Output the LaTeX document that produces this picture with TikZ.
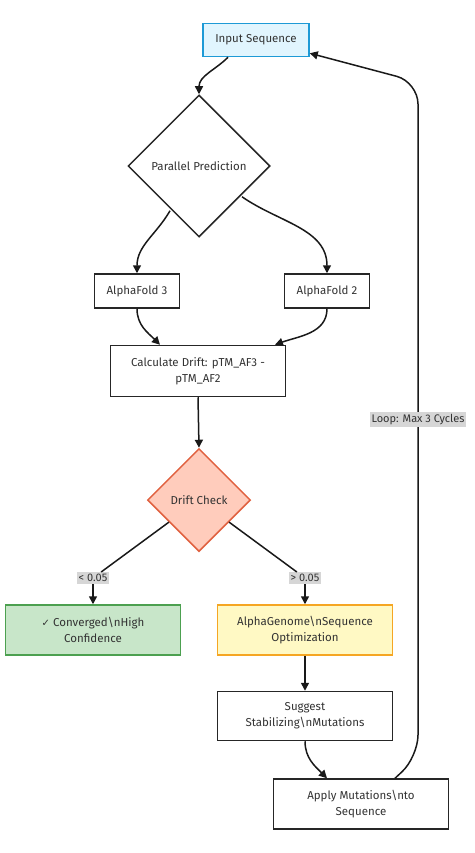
\documentclass[tikz,border=0pt]{standalone}
\usepackage{fontspec}
\setmainfont{Fira Sans}
\newfontfamily\symfont{DejaVu Sans}
\usetikzlibrary{arrows.meta,shapes.geometric}
\definecolor{txtgray}{HTML}{333333}
\definecolor{inblue}{HTML}{E1F5FE}
\definecolor{inbluedraw}{HTML}{1E9AD6}
\definecolor{driftfill}{HTML}{FFCCBC}
\definecolor{driftdraw}{HTML}{E0603F}
\definecolor{convfill}{HTML}{C8E6C9}
\definecolor{convdraw}{HTML}{4CA050}
\definecolor{genfill}{HTML}{FFF9C4}
\definecolor{gendraw}{HTML}{F5A623}
\definecolor{lblgray}{HTML}{D6D6D6}

\begin{document}
\begin{tikzpicture}[x=1pt,y=-1pt,
    every node/.style={font=\fontsize{11.5}{16}\selectfont, text=txtgray},
    box/.style={draw=black!85, line width=1.5pt, fill=white, align=center,
      minimum width=175pt, minimum height=50pt, inner sep=2pt},
    smallbox/.style={box, minimum width=85pt, minimum height=34pt},
    decide/.style={diamond, draw=black!85, line width=1.5pt, fill=white,
      aspect=1, inner sep=0pt},
    lbl/.style={fill=lblgray, sharp corners, inner sep=2pt, font=\fontsize{11}{12}\selectfont},
    arr/.style={-{Triangle[length=8pt,width=8pt]}, line width=1.5pt, black!90},
    line/.style={line width=1.5pt, black!90}]
\useasboundingbox (0,0) rectangle (474,853);

\node[smallbox, minimum width=106pt, minimum height=33pt, fill=inblue, draw=inbluedraw] (input) at (256,40) {Input Sequence};
\node[decide, minimum size=142pt] (par) at (199,166) {Parallel Prediction};
\node[smallbox] (af3) at (137,291) {AlphaFold 3};
\node[smallbox] (af2) at (327,291) {AlphaFold 2};
\node[box, minimum height=51pt] (calc) at (198,371) {Calculate Drift: pTM\_AF3 -\\pTM\_AF2};
\node[decide, minimum size=103pt, fill=driftfill, draw=driftdraw] (drift) at (199,500) {Drift Check};
\node[lbl] (lo) at (93,578) {< 0.05};
\node[lbl] (hi) at (305,578) {> 0.05};
\node[box, fill=convfill, draw=convdraw] (conv) at (93,630) {{\symfont\fontsize{10}{16}\selectfont ✓} Converged\textbackslash nHigh\\Confidence};
\node[box, fill=genfill, draw=gendraw] (gen) at (305,630) {AlphaGenome\textbackslash nSequence\\Optimization};
\node[box, minimum height=49pt] (sugg) at (305,716) {Suggest\\Stabilizing\textbackslash nMutations};
\node[box] (apply) at (361,804) {Apply Mutations\textbackslash nto\\Sequence};

\draw[arr] ([xshift=-28pt]input.south) to[out=-135, in=90] (par.north);
\draw[arr] ([shift={(-29,-27)}]par.south) to[out=-120, in=90] (af3.north);
\draw[arr] ([shift={(43,-41)}]par.south) to[out=-35, in=90] (af2.north);
\draw[arr] (af3.south) to[out=-90, in=135] ([xshift=-38pt]calc.north);
\draw[arr] (af2.south) to[out=-90, in=20] ([xshift=77pt]calc.north);
\draw[arr] (calc.south) -- (drift.north);
\draw[line] (drift) -- (lo);
\draw[line] (drift) -- (hi);
\draw[arr] (lo) -- (conv);
\draw[arr] (hi) -- (gen);
\draw[arr] (gen) -- (sugg);
\draw[arr] (sugg.south) to[out=-90, in=135] ([xshift=-34pt]apply.north);
\draw[arr, rounded corners=22pt] ([xshift=34pt]apply.north) -- (418,757)
  -- node[lbl] {Loop: Max 3 Cycles} (418,82) -- ([yshift=4pt]input.south east);
\end{tikzpicture}
\end{document}
